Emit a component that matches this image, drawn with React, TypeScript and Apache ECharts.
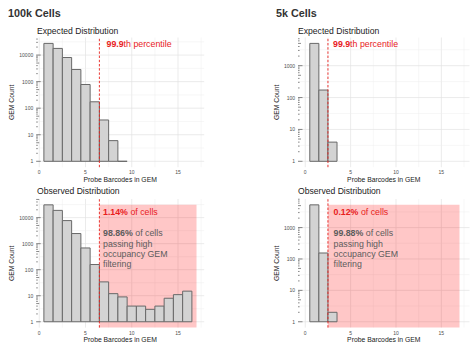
import React, { useEffect, useRef } from 'react';
import * as echarts from 'echarts';

// ---------- data ----------
const expected100kBins = [1, 2, 3, 4, 5, 6, 7, 8, 9];
const expected100kCounts = [27500, 17800, 8100, 2870, 780, 174, 36, 6, 1];
const observed100kBins = [1, 2, 3, 4, 5, 6, 7, 8, 9, 10, 11, 12, 13, 14, 15, 16];
const observed100kCounts = [31000, 19000, 7700, 2450, 684, 158, 34, 12, 9, 4, 4, 3, 4, 8, 11, 15];
const expected5kBins = [1, 2, 3];
const expected5kCounts = [5000, 172, 4];
const observed5kBins = [1, 2, 3];
const observed5kCounts = [5300, 155, 2];

const cutoff100k = 6.5;
const cutoff5k = 2.5;
const shadeEnd = 17;

const xTickValues = [0, 5, 10, 15];
const decadeTicks = [1, 10, 100, 1000, 10000];

const titles = ['100k Cells', '5k Cells'];
const pctAbove100k = '1.14%';
const pctPass100k = '98.86%';
const pctAbove5k = '0.12%';
const pctPass5k = '99.88%';

const FONT = '"Liberation Sans", Arial, Helvetica, sans-serif';

type Panel = {
  bins: number[];
  counts: number[];
  cutoff: number;
  shaded: boolean;
  grid: { left: number; top: number; width: number; height: number };
  xMin: number;
  xMax: number;
  yNameGap: number;
};

const panels: Panel[] = [
  { bins: expected100kBins, counts: expected100kCounts, cutoff: cutoff100k, shaded: false,
    grid: { left: 36.2, top: 37.5, width: 168, height: 129.7 }, xMin: -0.33, xMax: 17.83, yNameGap: 19.5 },
  { bins: expected5kBins, counts: expected5kCounts, cutoff: cutoff5k, shaded: false,
    grid: { left: 298, top: 37.5, width: 171.5, height: 129.7 }, xMin: -0.8, xMax: 18.1, yNameGap: 17.5 },
  { bins: observed100kBins, counts: observed100kCounts, cutoff: cutoff100k, shaded: true,
    grid: { left: 36.2, top: 199, width: 168, height: 128.6 }, xMin: -0.33, xMax: 17.83, yNameGap: 19.5 },
  { bins: observed5kBins, counts: observed5kCounts, cutoff: cutoff5k, shaded: true,
    grid: { left: 298, top: 199, width: 171.5, height: 128.6 }, xMin: -0.8, xMax: 18.1, yNameGap: 17.5 },
];

function buildOption() {
  const grids: any[] = [];
  const xAxes: any[] = [];
  const yAxes: any[] = [];
  const series: any[] = [];

  panels.forEach((p, i) => {
    const M = Math.log10(Math.max(...p.counts));
    const yMin = -0.05 * M;
    const yMax = 1.05 * M;
    grids.push({ ...p.grid, containLabel: false });
    xAxes.push({
      gridIndex: i, type: 'value', min: p.xMin, max: p.xMax,
      axisLine: { show: false }, axisTick: { show: false }, splitLine: { show: false },
      axisLabel: { customValues: xTickValues, fontSize: 5, color: '#4d4d4d', margin: 2.5, fontFamily: FONT },
      name: 'Probe Barcodes in GEM', nameLocation: 'middle', nameGap: 8.5,
      nameTextStyle: { fontSize: 6.8, color: '#1a1a1a', fontFamily: FONT },
    });
    const labelExps = decadeTicks.map((d) => Math.log10(d)).filter((e) => e <= yMax);
    yAxes.push({
      gridIndex: i, type: 'value', min: yMin, max: yMax,
      axisLine: { show: false }, axisTick: { show: false }, splitLine: { show: false },
      axisLabel: {
        customValues: labelExps, fontSize: 5, color: '#4d4d4d', margin: 3, fontFamily: FONT,
        formatter: (v: number) => String(Math.round(Math.pow(10, v))),
      },
      name: 'GEM Count', nameLocation: 'middle', nameGap: p.yNameGap, nameRotate: 90,
      nameTextStyle: { fontSize: 6.8, color: '#1a1a1a', fontFamily: FONT },
    });

    // grid lines (major + minor)
    const gl: number[][] = [];
    for (let v = 0; v <= p.xMax; v += 2.5) gl.push([0, v, v % 5 === 0 ? 1 : 0]);
    for (let h = 0; h <= yMax; h += 0.5) gl.push([1, h, h % 1 === 0 ? 1 : 0]);
    series.push({
      type: 'custom', xAxisIndex: i, yAxisIndex: i, z: 1, silent: true,
      data: gl,
      renderItem: (params: any, api: any) => {
        const kind = api.value(0);
        const v = api.value(1);
        const major = api.value(2) === 1;
        let a, b;
        if (kind === 0) { a = api.coord([v, yMin]); b = api.coord([v, yMax]); }
        else { a = api.coord([p.xMin, v]); b = api.coord([p.xMax, v]); }
        return {
          type: 'line', shape: { x1: a[0], y1: a[1], x2: b[0], y2: b[1] },
          style: { stroke: major ? '#e3e3e3' : '#eeeeee', lineWidth: major ? 0.7 : 0.5 },
        };
      },
    });

    // shaded region
    if (p.shaded) {
      series.push({
        type: 'custom', xAxisIndex: i, yAxisIndex: i, z: 2, silent: true,
        data: [[p.cutoff, shadeEnd, M]],
        renderItem: (params: any, api: any) => {
          const a = api.coord([api.value(0), api.value(2)]);
          const b = api.coord([api.value(1), yMin]);
          return {
            type: 'rect', shape: { x: a[0], y: a[1], width: b[0] - a[0], height: b[1] - a[1] },
            style: { fill: 'rgba(255,0,0,0.22)' },
          };
        },
      });
    }

    // histogram bars
    series.push({
      type: 'custom', xAxisIndex: i, yAxisIndex: i, z: 3, silent: true,
      data: p.bins.map((b, k) => [b, Math.log10(p.counts[k])]),
      renderItem: (params: any, api: any) => {
        const x = api.value(0);
        const y = api.value(1);
        const tl = api.coord([x - 0.5, y]);
        const br = api.coord([x + 0.5, 0]);
        return {
          type: 'rect', shape: { x: tl[0], y: tl[1], width: br[0] - tl[0], height: br[1] - tl[1] },
          style: { fill: '#d3d3d3', stroke: '#686868', lineWidth: 1 },
        };
      },
    });

    // log ticks
    const lt: number[][] = [];
    for (let e = 0; e <= Math.ceil(yMax); e++) {
      for (let m = 1; m <= 9; m++) {
        const v = m * Math.pow(10, e);
        if (Math.log10(v) <= yMax) lt.push([m, Math.log10(v)]);
      }
    }
    series.push({
      type: 'custom', xAxisIndex: i, yAxisIndex: i, z: 4, silent: true,
      data: lt,
      renderItem: (params: any, api: any) => {
        const m = api.value(0);
        const a = api.coord([p.xMin, api.value(1)]);
        const len = m === 1 ? 4.5 : m === 5 ? 3 : 1.6;
        return {
          type: 'line', shape: { x1: a[0], y1: a[1], x2: a[0] + len, y2: a[1] },
          style: { stroke: '#3c3c3c', lineWidth: 0.6 },
        };
      },
    });

    // cutoff line
    series.push({
      type: 'custom', xAxisIndex: i, yAxisIndex: i, z: 5, silent: true,
      data: [[p.cutoff]],
      renderItem: (params: any, api: any) => {
        const a = api.coord([api.value(0), yMin]);
        const b = api.coord([api.value(0), yMax]);
        return {
          type: 'line', shape: { x1: a[0], y1: a[1], x2: b[0], y2: b[1] },
          style: { stroke: '#e8201c', lineWidth: 0.9, lineDash: [2.4, 1.8] },
        };
      },
    });
  });

  const red = '#e8201c';
  const grey = '#5c5c5c';
  const annFont = 8.8;
  const richRed = {
    b: { fontWeight: 'bold', fontSize: annFont, fill: red, fontFamily: FONT },
    n: { fontSize: annFont, fill: red, fontFamily: FONT },
  };
  const richGrey = {
    b: { fontWeight: 'bold', fontSize: annFont, fill: grey, fontFamily: FONT, lineHeight: 10.4 },
    n: { fontSize: annFont, fill: grey, fontFamily: FONT, lineHeight: 10.4 },
  };
  const txt = (x: number, y: number, text: string, rich: any) => ({
    type: 'text', x, y, z: 10,
    style: { text, rich, verticalAlign: 'middle', align: 'left', fontFamily: FONT, fontSize: annFont },
  });
  const passText = (pct: string) =>
    `{b|${pct}}{n| of cells}\n{n|passing high}\n{n|occupancy GEM}\n{n|filtering}`;

  const graphic: any[] = [
    { type: 'text', x: 8, y: 12.5, style: { text: titles[0], font: `bold 10.8px ${FONT}`, fill: '#333', verticalAlign: 'middle' } },
    { type: 'text', x: 276, y: 12.5, style: { text: titles[1], font: `bold 10.8px ${FONT}`, fill: '#333', verticalAlign: 'middle' } },
    { type: 'text', x: 37, y: 31, style: { text: 'Expected Distribution', font: `8.6px ${FONT}`, fill: '#222', verticalAlign: 'middle' } },
    { type: 'text', x: 298, y: 31, style: { text: 'Expected Distribution', font: `8.6px ${FONT}`, fill: '#222', verticalAlign: 'middle' } },
    { type: 'text', x: 37, y: 191, style: { text: 'Observed Distribution', font: `8.6px ${FONT}`, fill: '#222', verticalAlign: 'middle' } },
    { type: 'text', x: 298, y: 191, style: { text: 'Observed Distribution', font: `8.6px ${FONT}`, fill: '#222', verticalAlign: 'middle' } },
    txt(106.5, 44, '{b|99.9}{n|th percentile}', richRed),
    txt(333, 44, '{b|99.9}{n|th percentile}', richRed),
    txt(103, 212, `{b|${pctAbove100k}}{n| of cells}`, richRed),
    txt(333.5, 212, `{b|${pctAbove5k}}{n| of cells}`, richRed),
    { type: 'text', x: 103, y: 228, z: 10, style: { text: passText(pctPass100k), rich: richGrey, verticalAlign: 'top', fontFamily: FONT, fontSize: annFont } },
    { type: 'text', x: 333.5, y: 228, z: 10, style: { text: passText(pctPass5k), rich: richGrey, verticalAlign: 'top', fontFamily: FONT, fontSize: annFont } },
  ];

  return {
    animation: false,
    backgroundColor: '#ffffff',
    textStyle: { fontFamily: FONT },
    grid: grids,
    xAxis: xAxes,
    yAxis: yAxes,
    series,
    graphic,
  };
}

export default function App() {
  const ref = useRef<HTMLDivElement>(null);
  useEffect(() => {
    document.body.style.margin = '0';
    if (!ref.current) return;
    const chart = echarts.init(ref.current, undefined, { renderer: 'svg' });
    chart.setOption(buildOption() as any);
    return () => chart.dispose();
  }, []);
  return <div ref={ref} style={{ width: 474, height: 349, position: 'fixed', left: 0, top: 0 }} />;
}
